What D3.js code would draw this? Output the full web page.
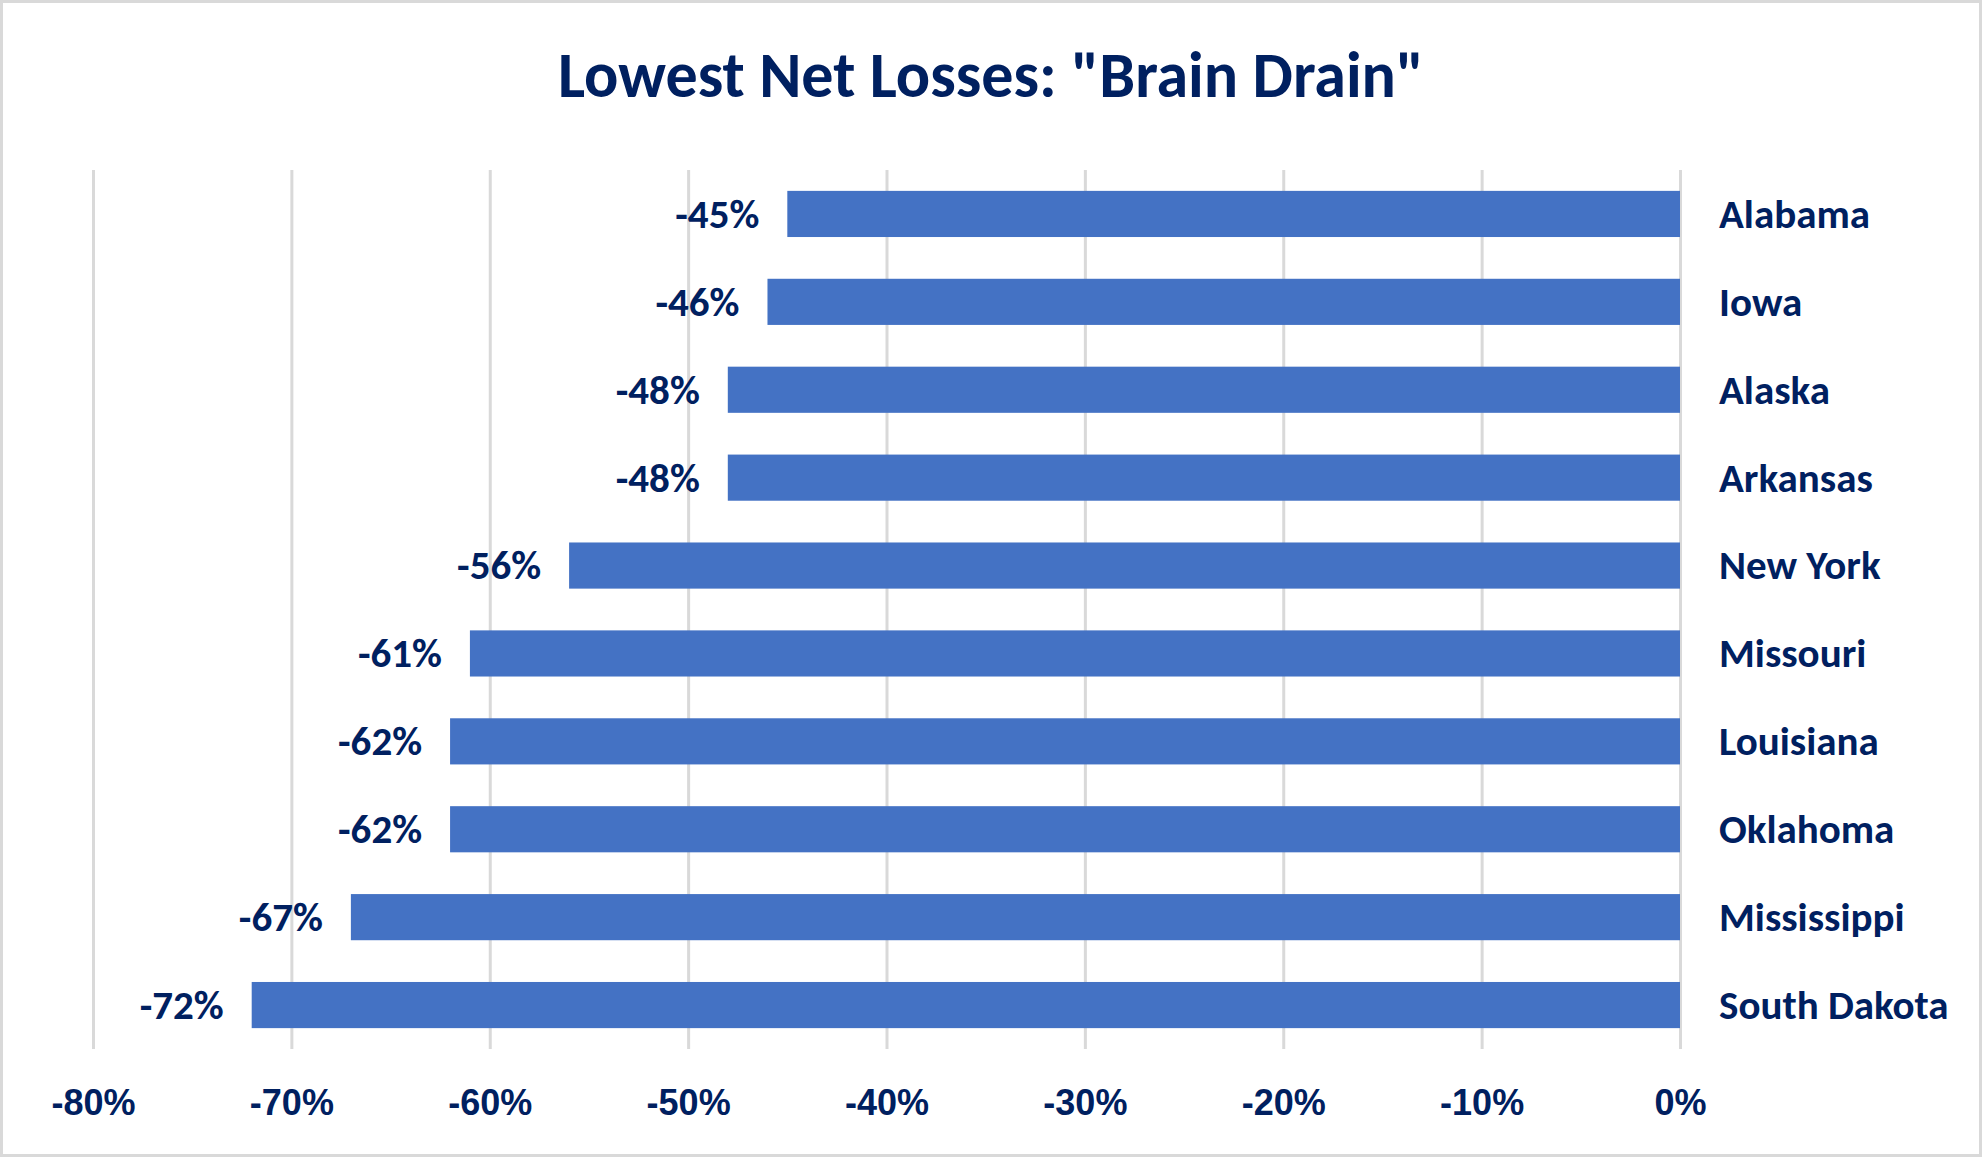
<!DOCTYPE html>
<html>
<head>
<meta charset="utf-8">
<script src="https://cdn.jsdelivr.net/npm/d3@7"></script>
<style>
  html, body { margin: 0; padding: 0; background: #fff; }
  svg { display: block; font-family: Carlito, Calibri, Lato, "Open Sans", sans-serif; font-weight: bold; }
</style>
</head>
<body>
<div id="chart"></div>
<script>
'use strict';

// chart data
var title = 'Lowest Net Losses: "Brain Drain"';
var states = ['Alabama', 'Iowa', 'Alaska', 'Arkansas', 'New York', 'Missouri', 'Louisiana', 'Oklahoma', 'Mississippi', 'South Dakota'];
var losses = [-0.45, -0.46, -0.48, -0.48, -0.56, -0.61, -0.62, -0.62, -0.67, -0.72];
var ticks = [-0.8, -0.7, -0.6, -0.5, -0.4, -0.3, -0.2, -0.1, 0];

var width = 1982, height = 1157;
var navy = '#002060';
var plot = { left: 93, right: 1680, top: 170, bottom: 1049 };

function pct(v) {
  return Math.round(v * 100) + '%';
}

var svg = d3.select('#chart').append('svg')
    .attr('width', width)
    .attr('height', height);

// chart frame
svg.append('rect')
    .attr('x', 1.5).attr('y', 1.5)
    .attr('width', width - 3).attr('height', height - 3)
    .attr('fill', '#fff')
    .attr('stroke', '#d9d9d9')
    .attr('stroke-width', 3);

svg.append('text')
    .attr('x', width / 2)
    .attr('y', 97)
    .attr('text-anchor', 'middle')
    .attr('fill', navy)
    .style('font-size', '64px')
    .text(title);

var x = d3.scaleLinear()
    .domain([-0.8, 0])
    .range([plot.left, plot.right]);

var y = d3.scaleBand()
    .domain(states)
    .range([plot.top, plot.bottom])
    .paddingInner(0.475)
    .paddingOuter(0.2375);

// vertical gridlines + tick labels
var xAxis = svg.append('g')
    .attr('transform', 'translate(0,' + plot.bottom + ')')
    .call(d3.axisBottom(x)
      .tickValues(ticks)
      .tickFormat(pct)
      .tickSize(-(plot.bottom - plot.top))
      .tickPadding(0));

xAxis.select('.domain').remove();
xAxis.selectAll('.tick line')
    .attr('stroke', '#d9d9d9')
    .attr('stroke-width', 3);
xAxis.selectAll('.tick text')
    .attr('y', 66)
    .attr('dy', null)
    .attr('fill', navy)
    .style('font-family', 'inherit')
    .style('font-weight', 'bold')
    .style('font-size', '36px');

// bars
svg.append('g')
  .selectAll('rect')
  .data(losses)
  .join('rect')
    .attr('x', d => x(d))
    .attr('y', (d, i) => y(states[i]))
    .attr('width', d => x(0) - x(d))
    .attr('height', y.bandwidth())
    .attr('fill', '#4472c4');

// value labels at the bar ends
svg.append('g')
    .attr('fill', navy)
    .style('font-size', '41px')
    .attr('text-anchor', 'end')
  .selectAll('text')
  .data(losses)
  .join('text')
    .attr('x', d => x(d) - 28)
    .attr('y', (d, i) => y(states[i]) + y.bandwidth() / 2)
    .attr('dy', '0.34em')
    .text(pct);

// state names right of the zero line
svg.append('g')
    .attr('fill', navy)
    .style('font-size', '41px')
  .selectAll('text')
  .data(states)
  .join('text')
    .attr('x', x(0) + 39)
    .attr('y', d => y(d) + y.bandwidth() / 2)
    .attr('dy', '0.34em')
    .text(d => d);
</script>
</body>
</html>
